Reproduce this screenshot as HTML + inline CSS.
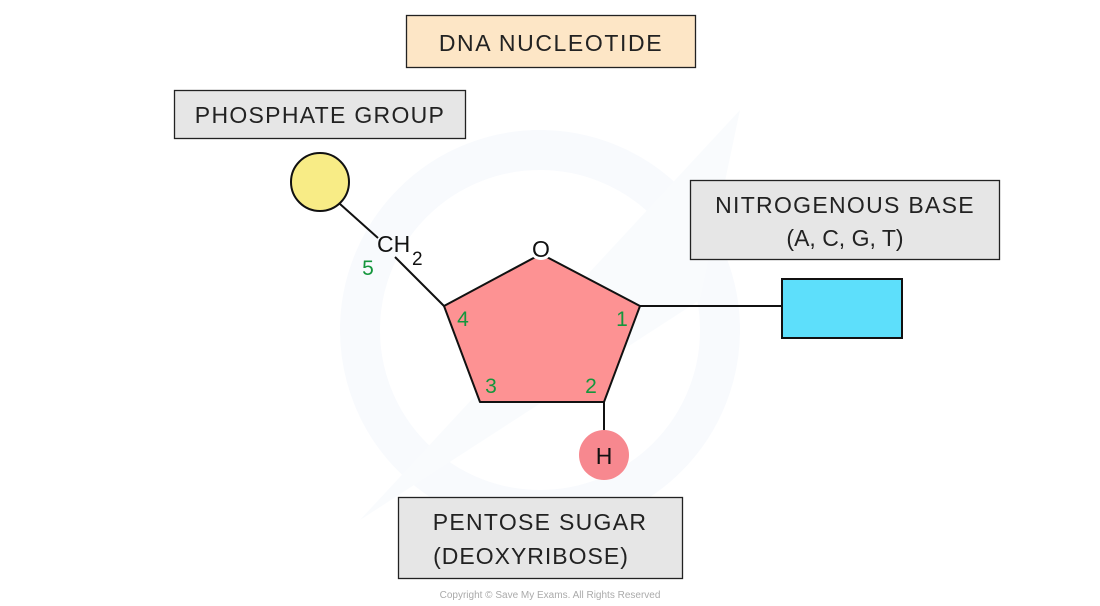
<!DOCTYPE html>
<html><head><style>
body{margin:0;background:#fff}
svg{display:block}
text{font-family:"Liberation Sans",sans-serif}
</style></head><body>
<svg width="1100" height="606" viewBox="0 0 1100 606">
<!-- faint watermark -->
<circle cx="540" cy="330" r="180" fill="none" stroke="#f8fafd" stroke-width="40"/>
<polygon points="360,520 740,110 700,300" fill="#f9fbfd"/>
<!-- boxes -->
<rect x="406.5" y="15.5" width="289" height="52" fill="#fde6c6" stroke="#222" stroke-width="1.3"/>
<text x="551" y="51" font-size="23" text-anchor="middle" fill="#222" letter-spacing="1.6">DNA  NUCLEOTIDE</text>
<rect x="174.5" y="90.5" width="291" height="48" fill="#e6e6e6" stroke="#222" stroke-width="1.3"/>
<text x="320" y="123" font-size="23" text-anchor="middle" fill="#222" letter-spacing="1.3">PHOSPHATE  GROUP</text>
<rect x="690.5" y="180.5" width="309" height="79" fill="#e6e6e6" stroke="#222" stroke-width="1.3"/>
<text x="845" y="213" font-size="23" text-anchor="middle" fill="#222" letter-spacing="1.3">NITROGENOUS  BASE</text>
<text x="845" y="246" font-size="23" text-anchor="middle" fill="#222">(A, C, G, T)</text>
<rect x="398.5" y="497.5" width="284" height="81" fill="#e6e6e6" stroke="#222" stroke-width="1.3"/>
<text x="540" y="530" font-size="23" text-anchor="middle" fill="#222" letter-spacing="1.3">PENTOSE  SUGAR</text>
<text x="531" y="564" font-size="23" text-anchor="middle" fill="#222" letter-spacing="1">(DEOXYRIBOSE)</text>
<!-- connections -->
<line x1="340" y1="204" x2="378" y2="238" stroke="#111" stroke-width="2"/>
<line x1="395" y1="257" x2="444" y2="306" stroke="#111" stroke-width="2"/>
<line x1="640" y1="306" x2="782" y2="306" stroke="#111" stroke-width="2"/>
<line x1="604" y1="402" x2="604" y2="432" stroke="#111" stroke-width="2"/>
<circle cx="320" cy="182" r="29" fill="#f8ec86" stroke="#111" stroke-width="2"/>
<polygon points="541,254 640,306 604,402 480,402 444,306" fill="#fd9293" stroke="#111" stroke-width="2" stroke-linejoin="round"/>
<circle cx="541" cy="248" r="12" fill="#fff"/>
<text x="541" y="257" font-size="23" text-anchor="middle" fill="#111">O</text>
<rect x="782" y="279" width="120" height="59" fill="#5ddffb" stroke="#111" stroke-width="2"/>
<circle cx="604" cy="455" r="25" fill="#f7888f"/>
<text x="604" y="464" font-size="23" text-anchor="middle" fill="#111">H</text>
<text x="377" y="252" font-size="23" fill="#111">CH</text>
<text x="412" y="265" font-size="19" fill="#111">2</text>
<g font-size="21" fill="#14963c" text-anchor="middle">
<text x="368" y="275">5</text>
<text x="463" y="326">4</text>
<text x="622" y="326">1</text>
<text x="491" y="393">3</text>
<text x="591" y="393">2</text>
</g>
<text x="550" y="598" font-size="10" text-anchor="middle" fill="#aaa">Copyright © Save My Exams. All Rights Reserved</text>
</svg>
</body></html>
